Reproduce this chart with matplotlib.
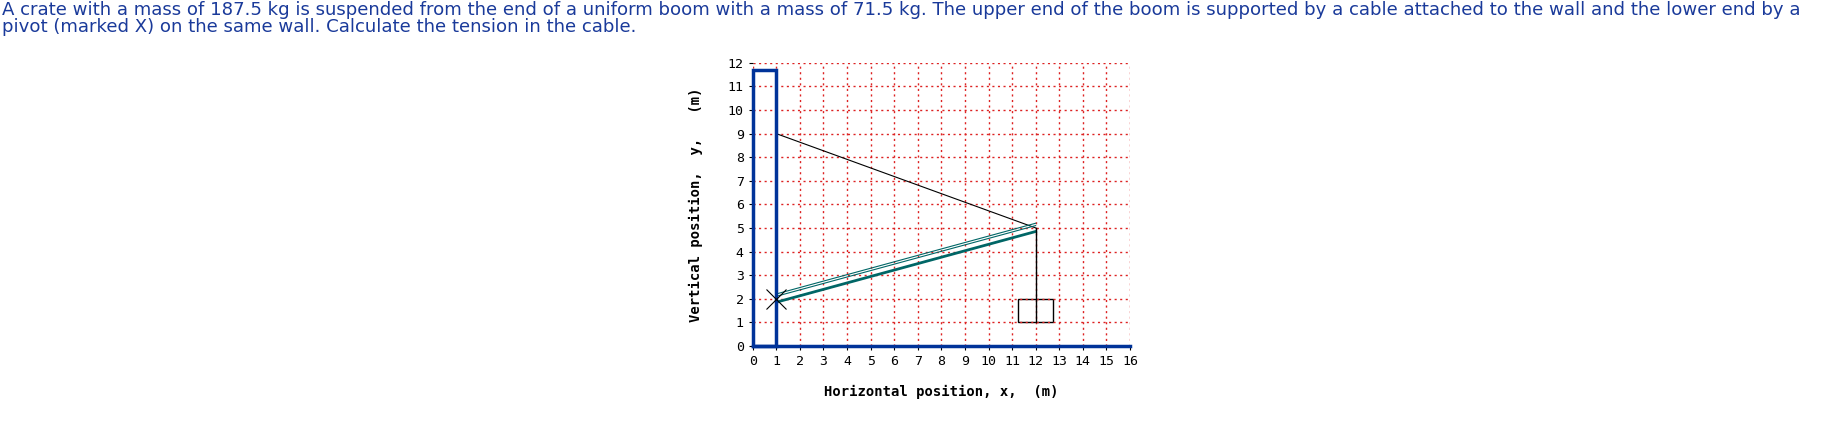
import matplotlib.pyplot as plt
from matplotlib.patches import Rectangle

# geometry (m)
wall_height = 11.7
pivot = (1, 2)
boom_end = (12, 5)
cable_top = (1, 9)
crate_x = [11.25, 12.75]
crate_y = [1, 2]

title = ("A crate with a mass of 187.5 kg is suspended from the end of a uniform boom with a mass of 71.5 kg. "
         "The upper end of the boom is supported by a cable attached to the wall and the lower end by a\n"
         "pivot (marked X) on the same wall. Calculate the tension in the cable.")

fig = plt.figure(figsize=(18.27, 4.28), dpi=100)
fig.text(0.001, 0.998, title, ha='left', va='top', fontsize=13.1, color='#1a3a9a',
         family='DejaVu Sans', linespacing=0.92)

ax = fig.add_axes([0.412, 0.192, 0.2065, 0.661])
ax.set_xlim(0, 16)
ax.set_ylim(0, 12)
ax.set_xticks(range(17))
ax.set_yticks(range(13))
ax.grid(True, color='#dd2222', linestyle=(0, (1.5, 2.5)), linewidth=1)
for s in ['top', 'right', 'left']:
    ax.spines[s].set_visible(False)
ax.spines['bottom'].set_color('#003399')
ax.spines['bottom'].set_linewidth(2.5)
ax.tick_params(labelsize=9.5, length=3)
for lab in ax.get_xticklabels() + ax.get_yticklabels():
    lab.set_family('DejaVu Sans Mono')
ax.set_xlabel('Horizontal position, x,  (m)', family='DejaVu Sans Mono', fontsize=10, fontweight='bold', labelpad=12)
ax.set_ylabel('Vertical position,  y,   (m)', family='DejaVu Sans Mono', fontsize=10, fontweight='bold', labelpad=18)

# wall
ax.add_patch(Rectangle((0, 0), 1, wall_height, fill=False, edgecolor='#003399', linewidth=2.5, clip_on=False, zorder=5))

# cable
ax.plot([cable_top[0], boom_end[0]], [cable_top[1], boom_end[1]], color='black', linewidth=0.8)

# boom (thick lower edge, double thin upper edge)
ax.plot([pivot[0], boom_end[0]], [pivot[1] - 0.15, boom_end[1] - 0.15], color='#006666', linewidth=2)
for off in (0.1, 0.2):
    ax.plot([pivot[0], boom_end[0]], [pivot[1] + off, boom_end[1] + off], color='#006666', linewidth=0.8)

# pivot marker
ax.plot([pivot[0]], [pivot[1]], marker='x', markersize=14, color='black', markeredgewidth=0.8, zorder=6)

# crate and rope
ax.plot([boom_end[0], boom_end[0]], [boom_end[1], crate_y[0]], color='black', linewidth=1)
ax.add_patch(Rectangle((crate_x[0], crate_y[0]), crate_x[1] - crate_x[0], crate_y[1] - crate_y[0],
                       fill=False, edgecolor='black', linewidth=1))

fig.savefig('out.png', dpi=100)
